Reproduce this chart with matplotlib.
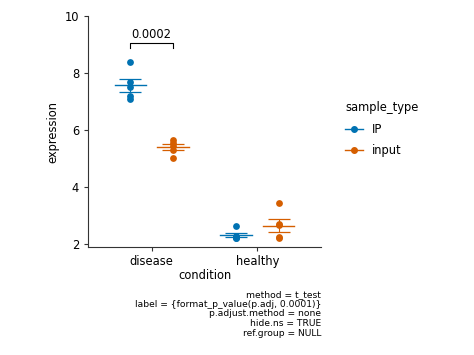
import numpy as np
import matplotlib.pyplot as plt
from matplotlib.lines import Line2D

### Data
conditions = ['disease', 'healthy']
sample_types = ['IP', 'input']
colors = {'IP': '#0072B2', 'input': '#D55E00'}

ip_disease = [8.40, 7.69, 7.50, 7.20, 7.09]
ip_healthy = [2.63, 2.30, 2.25, 2.22, 2.22]
input_disease = [5.67, 5.55, 5.44, 5.30, 5.03]
input_healthy = [3.45, 2.70, 2.66, 2.25, 2.22]

values = {
    ('IP', 'disease'): ip_disease,
    ('IP', 'healthy'): ip_healthy,
    ('input', 'disease'): input_disease,
    ('input', 'healthy'): input_healthy,
}

p_label = '0.0002'
bracket_y = 9.04
bracket_tip = 8.87

caption = ['method = t_test',
           'label = {format_p_value(p.adj, 0.0001)}',
           'p.adjust.method = none',
           'hide.ns = TRUE',
           'ref.group = NULL']

### Plot
fs = 8.3
fig = plt.figure(figsize=(4.74, 3.55), dpi=100)
ax = fig.add_axes([0.186, 0.304, 0.491, 0.651])

dodge = {'IP': -0.2, 'input': 0.2}
for st in sample_types:
    for i, cond in enumerate(conditions):
        v = np.array(values[(st, cond)])
        x = i + 1 + dodge[st]
        m = v.mean()
        se = v.std(ddof=1) / np.sqrt(len(v))
        c = colors[st]
        ax.plot([x - 0.15, x + 0.15], [m, m], color=c, lw=1.0, zorder=2)
        ax.errorbar(x, m, yerr=se, color=c, lw=0.8, capsize=8, capthick=0.9, zorder=2)
        ax.scatter(np.full(len(v), x), v, s=24, color=c, zorder=3, linewidths=0)

# significance bracket
x1 = 1 + dodge['IP']
x2 = 1 + dodge['input']
ax.plot([x1, x1, x2, x2], [bracket_tip, bracket_y, bracket_y, bracket_tip], color='black', lw=0.8)
ax.text((x1 + x2) / 2, bracket_y + 0.1, p_label, ha='center', va='bottom', fontsize=fs)

ax.set_xlim(0.4, 2.6)
ax.set_ylim(1.9, 10)
ax.set_xticks([1, 2])
ax.set_xticklabels(conditions)
ax.set_yticks([2, 4, 6, 8, 10])
ax.tick_params(labelsize=fs, length=3, width=0.8, colors='#333333', labelcolor='black')
ax.tick_params(axis='x', pad=2.5)
ax.spines['top'].set_visible(False)
ax.spines['right'].set_visible(False)
for s in ['left', 'bottom']:
    ax.spines[s].set_color('#333333')
    ax.spines[s].set_linewidth(0.8)
ax.set_xlabel('condition', fontsize=fs, labelpad=1)
ax.set_ylabel('expression', fontsize=fs, labelpad=4)

handles = [Line2D([0], [0], color=colors[st], marker='o', markersize=4, lw=1) for st in sample_types]
leg = fig.legend(handles, sample_types, title='sample_type', loc='upper left',
                 bbox_to_anchor=(0.707, 0.745), frameon=False, fontsize=fs,
                 title_fontsize=fs, handlelength=1.5, alignment='left', labelspacing=0.75)

fig.text(0.677, 0.183, '\n'.join(caption), ha='right', va='top', fontsize=6.6, linespacing=1.1)

fig.savefig('out.png', dpi=100)
